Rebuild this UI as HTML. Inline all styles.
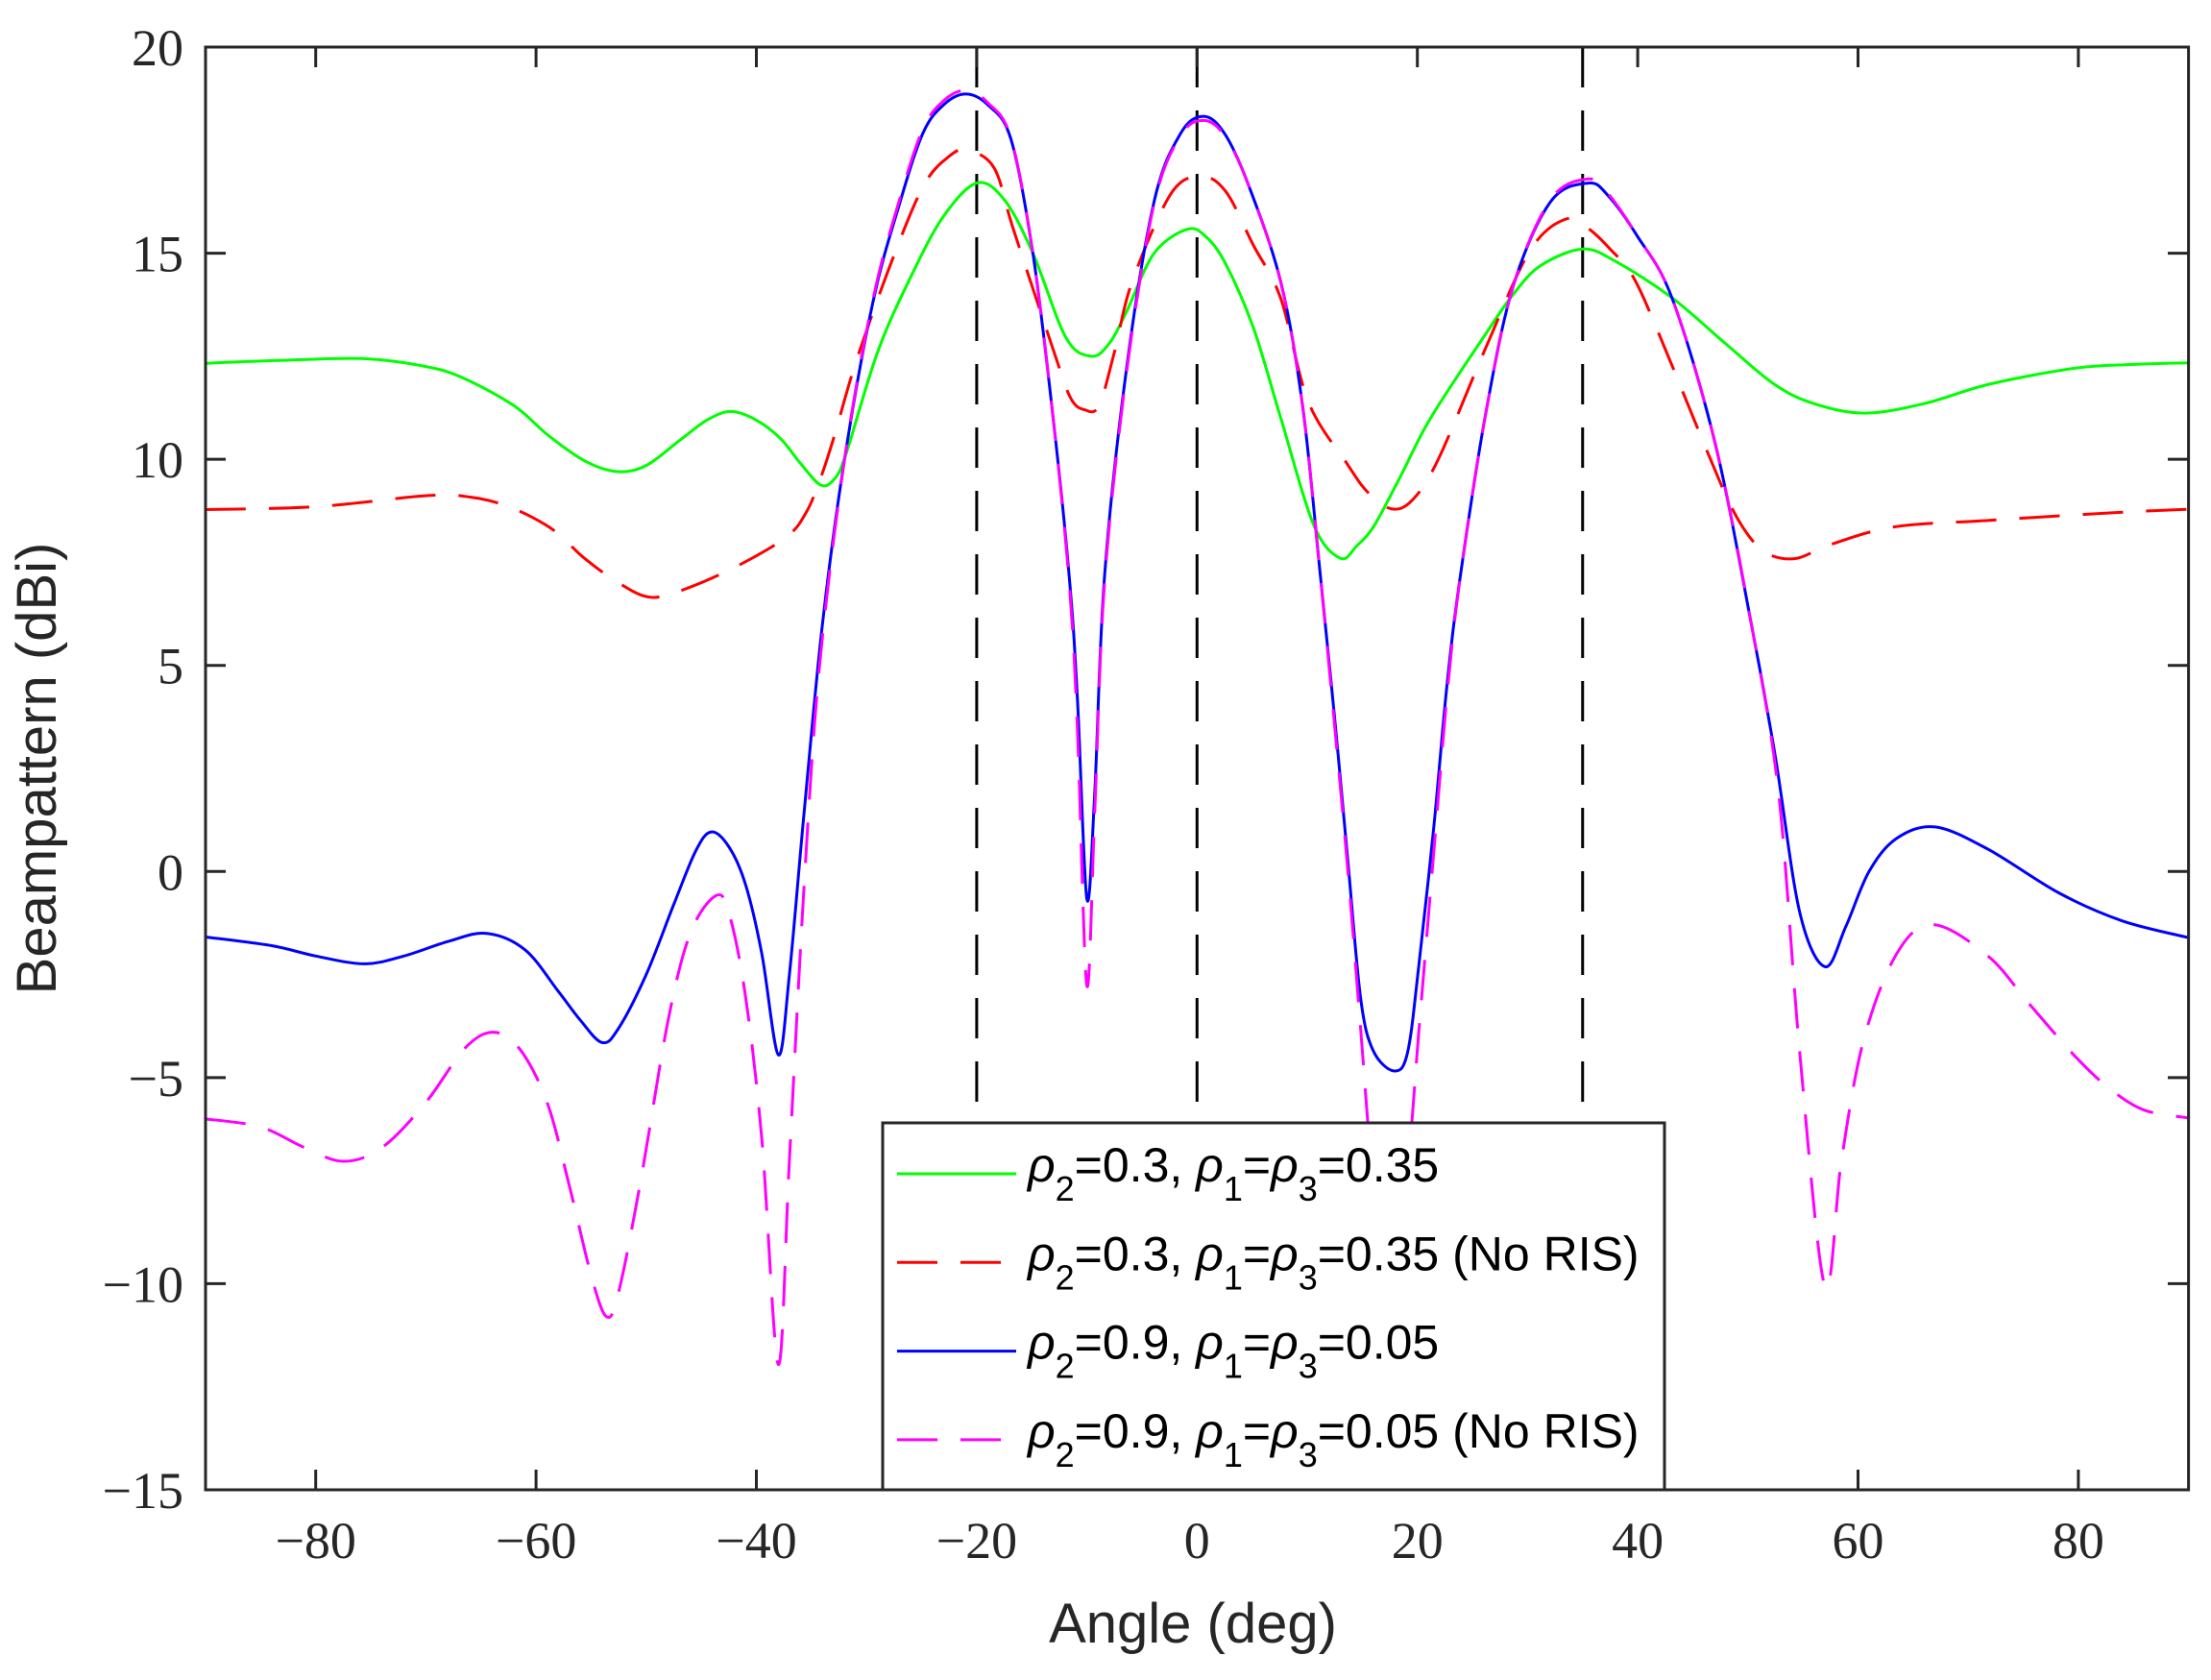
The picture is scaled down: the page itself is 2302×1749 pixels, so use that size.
<!DOCTYPE html>
<html><head><meta charset="utf-8"><style>
html,body{margin:0;padding:0;background:#fff;}
svg{display:block;}
.tk{font-family:"Liberation Serif",serif;font-size:54px;fill:#262626;}
.lg{font-family:"Liberation Sans",sans-serif;font-size:50px;fill:#000;}
.ax{font-family:"Liberation Sans",sans-serif;font-size:58px;fill:#262626;}
</style></head><body>
<svg id="s" width="2302" height="1749" xmlns="http://www.w3.org/2000/svg">
<defs><clipPath id="c"><rect x="214" y="49" width="2065" height="1502"/></clipPath></defs>
<rect width="2302" height="1749" fill="#fff"/>
<g id="vl" stroke="#000" stroke-width="3" stroke-dasharray="42 24"></g>
<g id="curves" clip-path="url(#c)" fill="none" stroke-width="3"></g>
<g id="axes" stroke="#262626" stroke-width="3" fill="none"></g>
<g id="labels"></g>
<text class="ax" x="1242" y="1710" text-anchor="middle">Angle (deg)</text>
<text class="ax" transform="translate(58,800) rotate(-90)" text-anchor="middle">Beampattern (dBi)</text>
<rect x="919" y="1169" width="814" height="382" fill="#fff" stroke="#262626" stroke-width="3"/>
<g id="leg"></g>
</svg>
<script>
var NS="http://www.w3.org/2000/svg";
function X(d){return 214+(d+90)*11.47;}
function Y(v){return 49+(20-v)*42.914;}
function el(t,a,p){var e=document.createElementNS(NS,t);for(var k in a)e.setAttribute(k,a[k]);p.appendChild(e);return e;}
function path(pts){
 var P=pts.map(function(p){return [X(p[0]),Y(p[1])];});
 var d="M"+P[0][0].toFixed(1)+","+P[0][1].toFixed(1);
 for(var i=0;i<P.length-1;i++){
  var p0=P[i>0?i-1:0],p1=P[i],p2=P[i+1],p3=P[i+2<P.length?i+2:P.length-1];
  var c1=[p1[0]+(p2[0]-p0[0])/6,p1[1]+(p2[1]-p0[1])/6];
  var c2=[p2[0]-(p3[0]-p1[0])/6,p2[1]-(p3[1]-p1[1])/6];
  d+=" C"+c1[0].toFixed(1)+","+c1[1].toFixed(1)+" "+c2[0].toFixed(1)+","+c2[1].toFixed(1)+" "+p2[0].toFixed(1)+","+p2[1].toFixed(1);
 }
 return d;
}
var G=[[-90,12.33],[-83,12.4],[-75.6,12.44],[-70,12.25],[-66.6,11.97],[-62,11.3],[-58.9,10.58],[-55.5,9.95],[-52.6,9.70],[-50,9.85],[-47,10.45],[-44.5,10.95],[-42.3,11.16],[-40,10.95],[-37.8,10.5],[-36,9.9],[-34.2,9.38],[-33,9.5],[-31.9,10.1],[-29,12.6],[-25.9,14.47],[-23,15.9],[-20,16.7],[-17.5,16.3],[-14.9,15.0],[-11.9,12.95],[-9.6,12.5],[-8,12.8],[-6.4,13.58],[-3.9,15.0],[-0.9,15.58],[0.8,15.4],[2.6,14.74],[5.1,13.2],[7.6,11.0],[10.6,8.4],[13.0,7.6],[14.5,7.9],[16.1,8.4],[18.5,9.6],[21.2,11.0],[26.2,13.04],[28.7,14.0],[31.2,14.7],[35,15.1],[38,14.8],[43.1,13.92],[48,12.8],[52.4,11.82],[56,11.35],[60.6,11.12],[66,11.35],[71.9,11.82],[79.7,12.21],[85,12.3],[90,12.34]];
var R=[[-90,8.78],[-80,8.85],[-69.8,9.12],[-65.9,9.08],[-63,8.9],[-60.4,8.6],[-58,8.2],[-55.7,7.62],[-52.5,7.0],[-49.5,6.65],[-46,6.9],[-41.3,7.47],[-37.2,8.13],[-35.5,8.7],[-34.3,9.45],[-33,10.5],[-31,12.33],[-28,14.6],[-24.9,16.6],[-22.5,17.35],[-20.8,17.5],[-18.4,17.06],[-16.7,15.6],[-13.1,12.7],[-11.5,11.5],[-10.2,11.2],[-8.9,11.3],[-7.5,12.6],[-5.9,14.3],[-2.4,16.43],[0.3,16.86],[2.6,16.5],[5.1,15.2],[7.6,13.9],[10.1,11.4],[13.6,9.9],[15.5,9.2],[17.6,8.8],[19.5,9.0],[21.9,10.0],[26.2,12.7],[30.2,15.05],[33.4,15.82],[35.5,15.6],[37.5,15.1],[39.6,14.42],[41.9,13.06],[46.2,10.26],[48.6,8.79],[50.5,8.0],[52.2,7.66],[54.5,7.6],[57.5,7.93],[63.3,8.36],[71.9,8.52],[83.6,8.71],[90,8.79]];
var B=[[-90,-1.59],[-84,-1.8],[-80,-2.05],[-75.6,-2.24],[-72,-2.05],[-68,-1.7],[-64.5,-1.5],[-61,-1.9],[-58,-2.9],[-56,-3.6],[-54,-4.15],[-52.5,-3.8],[-50,-2.5],[-47.5,-0.8],[-45.5,0.5],[-44.1,0.96],[-42.5,0.6],[-41,-0.3],[-39.5,-2.0],[-38,-4.45],[-37,-2.5],[-35.7,1.33],[-34,6.0],[-32,10.0],[-29.4,13.84],[-27,16.2],[-24.9,17.9],[-23,18.6],[-21,18.86],[-19,18.6],[-16.9,17.77],[-14.9,15.0],[-13.1,11.1],[-11.6,7.16],[-10.86,4.22],[-10,-0.67],[-9.28,1.96],[-8.4,7.16],[-6.4,12.2],[-3.9,16.25],[-1.5,17.9],[0.6,18.32],[2.5,17.9],[4.6,16.7],[7.6,14.3],[9.6,11.26],[11.2,7.16],[12.5,3.69],[13.7,0.24],[14.85,-3.07],[16.0,-4.35],[17.9,-4.84],[19.1,-4.4],[20.1,-2.37],[21.5,1.1],[22.7,4.56],[23.9,7.16],[26.2,11.1],[28.7,14.2],[32.1,16.25],[35.5,16.7],[37.3,16.4],[40,15.4],[43.1,13.92],[47,10.42],[50.3,6.03],[52.5,2.77],[54.7,-0.98],[57,-2.31],[58.9,-1.33],[61,0.0],[63.5,0.8],[67,1.08],[71.8,0.54],[78.3,-0.53],[84,-1.2],[89.9,-1.6]];
var M=[[-90,-6.0],[-85,-6.2],[-81,-6.7],[-77.5,-7.03],[-74,-6.7],[-70,-5.6],[-66.5,-4.3],[-63.9,-3.9],[-61.5,-4.3],[-59,-5.6],[-57,-7.6],[-55,-9.8],[-53.6,-10.8],[-52.5,-10.2],[-50.5,-7.5],[-48,-3.6],[-46,-1.5],[-43.7,-0.59],[-42.5,-1.0],[-41,-3.0],[-39.5,-6.5],[-38,-11.96],[-37,-7],[-35.7,-0.5],[-34.3,4.9],[-32,10.0],[-29.4,13.9],[-27,16.3],[-24.9,18.0],[-23,18.7],[-21,18.95],[-19,18.65],[-16.9,17.8],[-14.9,15.0],[-13.1,11.1],[-11.6,7.0],[-10.86,3.5],[-10,-2.77],[-9.28,1.5],[-8.4,7.0],[-6.4,12.1],[-3.9,16.2],[-1.5,17.85],[0.6,18.22],[2.5,17.85],[4.6,16.7],[7.6,14.3],[9.6,11.26],[11.2,7.16],[12.5,3.5],[13.7,0],[14.85,-3.8],[16,-7.5],[17.5,-9.5],[19,-7.5],[20.1,-4],[21.5,0.5],[22.7,4.3],[23.9,7.16],[26.2,11.1],[28.7,14.2],[32.1,16.3],[35.5,16.8],[37.3,16.45],[40,15.4],[43.1,13.92],[47,10.42],[50.3,6.03],[52.8,1.88],[54.7,-4.36],[57,-10.07],[58.5,-7.0],[60.5,-4.1],[63.5,-2.0],[66.8,-1.29],[71.8,-2.05],[75.5,-3.2],[79.9,-4.54],[83,-5.3],[86,-5.79],[90,-5.98]];
var cg=document.getElementById("curves");
el("path",{d:path(G),stroke:"#00ff00"},cg);
el("path",{d:path(R),stroke:"#ff0000","stroke-dasharray":"42 24"},cg);
el("path",{d:path(B),stroke:"#0000ff"},cg);
el("path",{d:path(M),stroke:"#ff00ff","stroke-dasharray":"42 24"},cg);
var vl=document.getElementById("vl");
[-20,0,35].forEach(function(d){el("line",{x1:X(d),y1:49,x2:X(d),y2:1169},vl);});
var ax=document.getElementById("axes"),lb=document.getElementById("labels");
el("rect",{x:214,y:49,width:2064.6,height:1502},ax);
for(var d=-80;d<=80;d+=20){
 var x=X(d);
 el("line",{x1:x,y1:1551,x2:x,y2:1530},ax);
 el("line",{x1:x,y1:49,x2:x,y2:70},ax);
 var t=el("text",{x:x,y:1622,"class":"tk","text-anchor":"middle"},lb);
 t.textContent=(d<0?"\u2212":"")+Math.abs(d);
}
for(var v=-15;v<=20;v+=5){
 var y=Y(v);
 el("line",{x1:214,y1:y,x2:235,y2:y},ax);
 el("line",{x1:2278.6,y1:y,x2:2257,y2:y},ax);
 var t=el("text",{x:191,y:y+19,"class":"tk","text-anchor":"end"},lb);
 t.textContent=(v<0?"\u2212":"")+Math.abs(v);
}
var lg=document.getElementById("leg");
var rows=[["#00ff00",null,"0.3","0.35",""],["#ff0000","42 24","0.3","0.35"," (No RIS)"],["#0000ff",null,"0.9","0.05",""],["#ff00ff","42 24","0.9","0.05"," (No RIS)"]];
rows.forEach(function(r,i){
 var by=1230+i*92.3, ly=by-8;
 var a={x1:934,y1:ly,x2:1058,y2:ly,stroke:r[0],"stroke-width":3};
 if(r[1])a["stroke-dasharray"]=r[1];
 el("line",a,lg);
 var t=el("text",{x:1070,y:by,"class":"lg"},lg);
 t.innerHTML='<tspan font-style="italic">\u03c1</tspan><tspan dy="20" font-size="36">2</tspan><tspan dy="-20">='+r[2]+', </tspan><tspan font-style="italic">\u03c1</tspan><tspan dy="20" font-size="36">1</tspan><tspan dy="-20">=</tspan><tspan font-style="italic">\u03c1</tspan><tspan dy="20" font-size="36">3</tspan><tspan dy="-20">='+r[3]+r[4]+'</tspan>';
});
</script>
</body></html>
